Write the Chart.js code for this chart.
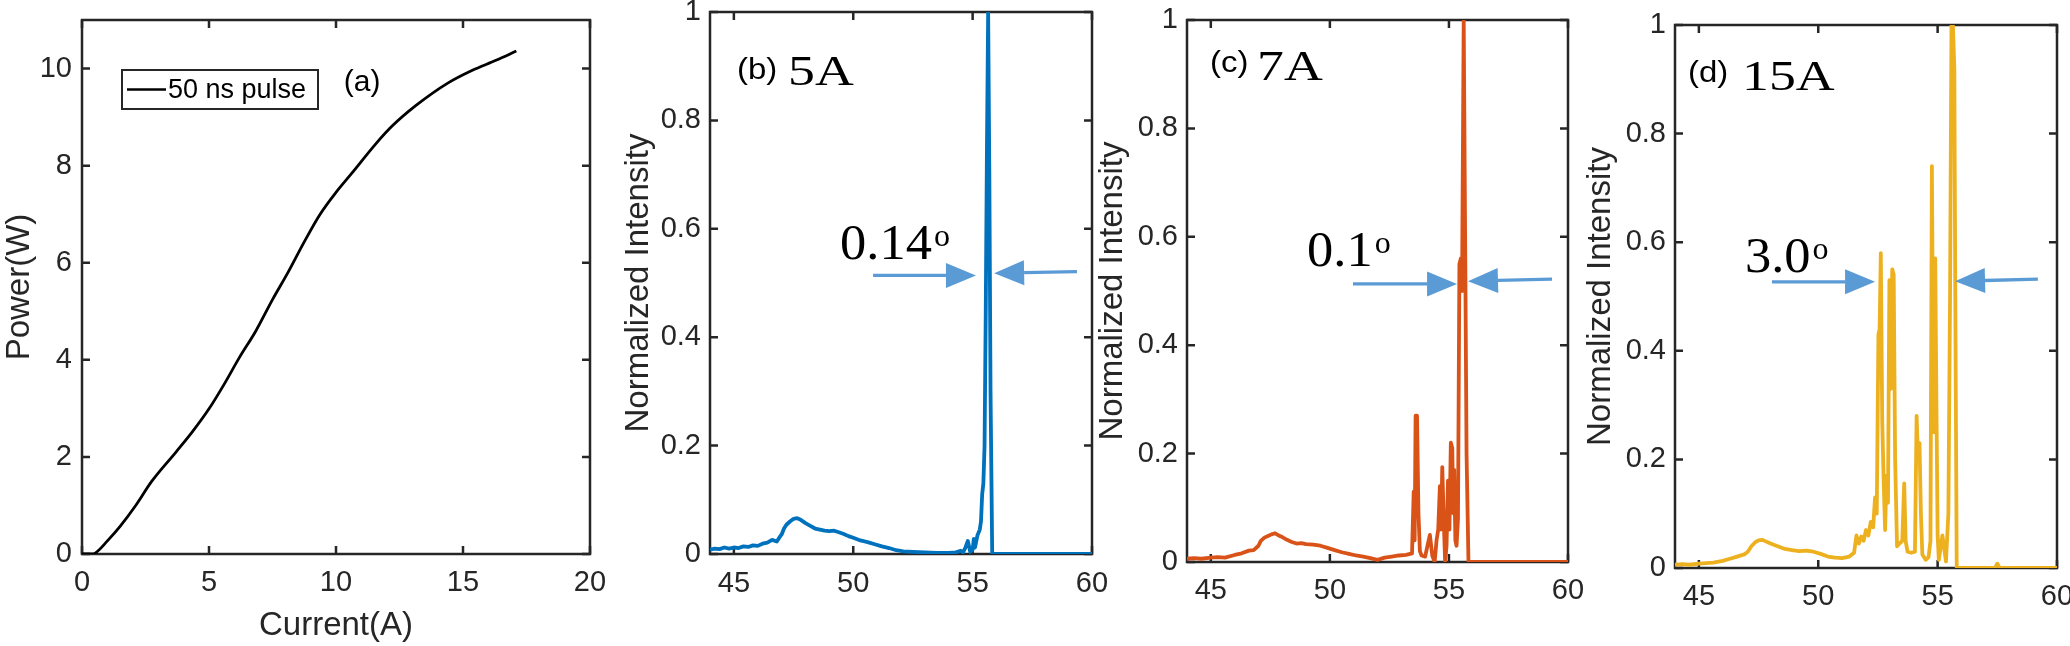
<!DOCTYPE html>
<html>
<head>
<meta charset="utf-8">
<title>Power and far-field spectra</title>
<script src="https://cdn.jsdelivr.net/npm/chart.js@4.4.1/dist/chart.umd.min.js"></script>
<style>
  html, body { margin: 0; padding: 0; background: #fff; }
  body { position: relative; width: 2070px; height: 646px; overflow: hidden; }
  .panel { position: absolute; top: 0; height: 646px; }
</style>
</head>
<body>
<div class="panel" style="left:0;width:620px"><canvas id="chartA"></canvas></div>
<div class="panel" style="left:600px;width:520px"><canvas id="chartB"></canvas></div>
<div class="panel" style="left:1080px;width:520px"><canvas id="chartC"></canvas></div>
<div class="panel" style="left:1570px;width:500px"><canvas id="chartD"></canvas></div>
<script>
// (a) output power vs drive current
const currentA = [0, 0.4, 0.55, 1.0, 1.5, 2.1, 2.75, 3.7, 4.35, 5.0, 5.6, 6.2, 6.85, 7.5, 8.1, 8.75, 9.35, 10.0, 10.6, 11.6, 12.2, 13.15, 14.4, 15.35, 16.3, 17.1];
const powerW = [0, 0, 0.03, 0.27, 0.57, 0.99, 1.5, 2.1, 2.52, 2.99, 3.5, 4.05, 4.6, 5.24, 5.79, 6.43, 6.98, 7.45, 7.83, 8.47, 8.81, 9.24, 9.7, 9.96, 10.17, 10.36];
const currentTicks = [0, 5, 10, 15, 20];
const powerTicks = [0, 2, 4, 6, 8, 10];

// (b)-(d) normalized intensity vs angle
const angleTicks = [45, 50, 55, 60];
const intensityTicks = [0, 0.2, 0.4, 0.6, 0.8, 1];

// 5A
const angleB = [44.0, 44.2, 44.4, 44.6, 44.8, 45.0, 45.2, 45.4, 45.6, 45.8, 46.0, 46.2, 46.4, 46.6, 46.8, 46.9, 47.0, 47.1, 47.2, 47.35,
  47.5, 47.65, 47.8, 48.0, 48.2, 48.4, 48.6, 48.8, 49.0, 49.2, 49.4, 49.6, 49.8, 50.0, 50.3, 50.6, 50.9, 51.2, 51.5, 51.8,
  52.1, 52.5, 53.0, 53.5, 54.0, 54.3, 54.5, 54.6, 54.7, 54.8, 54.9, 55.0, 55.05, 55.1, 55.2, 55.3, 55.35, 55.4, 55.45, 55.5,
  55.55, 55.6, 55.65, 55.7, 55.75, 55.82, 56.0, 58.0, 60.0];
const intensityB = [0.008, 0.010, 0.009, 0.012, 0.010, 0.012, 0.011, 0.014, 0.013, 0.016, 0.015, 0.019, 0.021, 0.026, 0.023, 0.030, 0.036, 0.047, 0.054, 0.060,
  0.065, 0.066, 0.063, 0.057, 0.052, 0.047, 0.045, 0.043, 0.042, 0.043, 0.040, 0.037, 0.033, 0.030, 0.025, 0.022, 0.018, 0.014, 0.011, 0.007,
  0.005, 0.004, 0.003, 0.002, 0.002, 0.003, 0.006, 0.003, 0.012, 0.024, 0.004, 0.008, 0.028, 0.012, 0.034, 0.045, 0.06, 0.11, 0.13, 0.2,
  0.45, 0.75, 1.0, 0.7, 0.3, 0, 0, 0, 0];

// 7A
const angleC = [44.0, 44.3, 44.6, 45.0, 45.3, 45.6, 46.0, 46.3, 46.6, 46.8, 47.0, 47.1, 47.25, 47.4, 47.55, 47.7, 47.85, 48.0, 48.2, 48.4,
  48.6, 48.8, 49.0, 49.3, 49.6, 49.9, 50.2, 50.5, 50.8, 51.1, 51.4, 51.7, 52.0, 52.3, 52.6, 52.9, 53.2, 53.45, 53.52, 53.56,
  53.6, 53.66, 53.72, 53.78, 53.85, 54.0, 54.1, 54.2, 54.3, 54.4, 54.48, 54.55, 54.62, 54.67, 54.72, 54.78, 54.84, 54.9, 54.96, 55.02,
  55.08, 55.14, 55.18, 55.22, 55.27, 55.32, 55.38, 55.44, 55.5, 55.55, 55.62, 55.68, 55.74, 55.82, 56.5, 58.0, 60.0];
const intensityC = [0.006, 0.007, 0.006, 0.008, 0.009, 0.008, 0.013, 0.016, 0.021, 0.022, 0.030, 0.039, 0.045, 0.048, 0.051, 0.053, 0.049, 0.046, 0.041, 0.037,
  0.034, 0.035, 0.033, 0.032, 0.030, 0.026, 0.022, 0.018, 0.015, 0.012, 0.010, 0.007, 0.004, 0.008, 0.010, 0.012, 0.013, 0.016, 0.13, 0.04,
  0.27, 0.27, 0.09, 0.02, 0.012, 0.01, 0.03, 0.05, 0.012, 0.0, 0.04, 0.06, 0.14, 0.06, 0.175, 0.08, 0.0, 0.03, 0.15, 0.06,
  0.22, 0.21, 0.09, 0.17, 0.04, 0.03, 0.08, 0.55, 0.56, 0.5, 1.0, 0.6, 0.2, 0, 0, 0, 0];

// 15A
const angleD = [44.0, 44.3, 44.6, 45.0, 45.3, 45.6, 46.0, 46.3, 46.6, 46.9, 47.05, 47.2, 47.35, 47.5, 47.65, 47.8, 48.0, 48.3, 48.6, 48.9,
  49.2, 49.5, 49.8, 50.1, 50.4, 50.7, 51.0, 51.3, 51.5, 51.6, 51.7, 51.8, 51.9, 52.0, 52.1, 52.2, 52.3, 52.38, 52.45, 52.52,
  52.57, 52.62, 52.68, 52.74, 52.8, 52.86, 52.92, 52.98, 53.04, 53.1, 53.16, 53.22, 53.3, 53.4, 53.52, 53.6, 53.66, 53.74, 53.9, 54.05,
  54.12, 54.18, 54.24, 54.3, 54.36, 54.5, 54.62, 54.7, 54.76, 54.8, 54.85, 54.9, 54.95, 55.0, 55.05, 55.2, 55.35, 55.45, 55.52, 55.58,
  55.64, 55.7, 55.74, 55.8, 57.4, 57.5, 57.6, 60.0];
const intensityD = [0.006, 0.007, 0.006, 0.008, 0.009, 0.010, 0.013, 0.017, 0.021, 0.025, 0.030, 0.040, 0.047, 0.051, 0.052, 0.049, 0.045, 0.040, 0.035, 0.033,
  0.031, 0.032, 0.030, 0.026, 0.021, 0.019, 0.018, 0.021, 0.028, 0.060, 0.045, 0.058, 0.050, 0.070, 0.060, 0.085, 0.075, 0.130, 0.100, 0.430,
  0.440, 0.580, 0.270, 0.160, 0.070, 0.170, 0.120, 0.530, 0.330, 0.550, 0.540, 0.200, 0.040, 0.045, 0.050, 0.156, 0.050, 0.030, 0.028, 0.030,
  0.280, 0.200, 0.230, 0.100, 0.025, 0.015, 0.020, 0.050, 0.740, 0.450, 0.250, 0.570, 0.300, 0.060, 0.015, 0.060, 0.012, 0.100, 0.500, 1.000,
  1.000, 0.920, 0.500, 0.000, 0.000, 0.008, 0.000, 0.000];

const INK = '#262626';
const ARROW = '#5B9BD5';
const SANS = '"Liberation Sans", Arial, sans-serif';
const SERIF = '"Liberation Serif", "Times New Roman", serif';

// annotations, anchored in data units
const panelNotes = {
  chartA: { tag: '(a)', tagAt: [10.31, 9.70], legend: true },
  chartB: { tag: '(b)', tagAt: [45.13, 0.891], amp: '5A', ampAt: [47.27, 0.866],
            spread: '0.14', spreadAt: [49.45, 0.545],
            arrowIn: [[50.83, 0.514], [55.14, 0.514]], arrowOut: [[59.37, 0.521], [55.9, 0.518]] },
  chartC: { tag: '(c)', tagAt: [44.97, 0.92], amp: '7A', ampAt: [46.94, 0.89],
            spread: '0.1', spreadAt: [49.04, 0.546],
            arrowIn: [[50.97, 0.513], [55.34, 0.513]], arrowOut: [[59.33, 0.522], [55.8, 0.518]] },
  chartD: { tag: '(d)', tagAt: [44.54, 0.911], amp: '15A', ampAt: [46.81, 0.88],
            spread: '3.0', spreadAt: [46.93, 0.545],
            arrowIn: [[48.06, 0.527], [52.38, 0.527]], arrowOut: [[59.2, 0.532], [55.73, 0.528]] }
};

function stretchText(ctx, text, x, y, font, sx, baseline) {
  ctx.save();
  ctx.translate(x, y);
  ctx.scale(sx, 1);
  ctx.font = font;
  ctx.textAlign = 'left';
  ctx.textBaseline = baseline;
  ctx.fillText(text, 0, 0);
  const w = ctx.measureText(text).width * sx;
  ctx.restore();
  return w;
}

function drawArrow(ctx, tail, tip) {
  const ang = Math.atan2(tip[1] - tail[1], tip[0] - tail[0]);
  const len = 30, half = 12.5;
  const bx = tip[0] - len * Math.cos(ang), by = tip[1] - len * Math.sin(ang);
  ctx.beginPath();
  ctx.moveTo(tail[0], tail[1]);
  ctx.lineTo(bx, by);
  ctx.stroke();
  ctx.beginPath();
  ctx.moveTo(tip[0], tip[1]);
  ctx.lineTo(bx - half * Math.sin(ang), by + half * Math.cos(ang));
  ctx.lineTo(bx + half * Math.sin(ang), by - half * Math.cos(ang));
  ctx.closePath();
  ctx.fill();
}

// MATLAB-like box with inward ticks on all four sides
const boxPlugin = {
  id: 'matlabBox',
  beforeDatasetsDraw(chart) {
    const { ctx, chartArea: { left, right, top, bottom }, scales: { x, y } } = chart;
    const tl = 8;
    ctx.save();
    ctx.strokeStyle = INK;
    ctx.lineWidth = 2.5;
    ctx.strokeRect(left, top, right - left, bottom - top);
    ctx.beginPath();
    x.ticks.forEach(t => {
      const px = x.getPixelForValue(t.value);
      ctx.moveTo(px, bottom); ctx.lineTo(px, bottom - tl);
      ctx.moveTo(px, top); ctx.lineTo(px, top + tl);
    });
    y.ticks.forEach(t => {
      const py = y.getPixelForValue(t.value);
      ctx.moveTo(left, py); ctx.lineTo(left + tl, py);
      ctx.moveTo(right, py); ctx.lineTo(right - tl, py);
    });
    ctx.stroke();
    ctx.restore();
  }
};

const notesPlugin = {
  id: 'panelNotes',
  afterDatasetsDraw(chart) {
    const n = panelNotes[chart.canvas.id];
    if (!n) return;
    const { ctx, scales: { x, y } } = chart;
    const px = p => [x.getPixelForValue(p[0]), y.getPixelForValue(p[1])];
    ctx.save();
    ctx.fillStyle = '#000';

    const [tx, ty] = px(n.tagAt);
    stretchText(ctx, n.tag, tx, ty, `30px ${SANS}`, n.legend ? 1 : 1.1, 'middle');

    if (n.amp) {
      const [ax, ay] = px(n.ampAt);
      stretchText(ctx, n.amp, ax, ay, `42px ${SERIF}`, 1.28, 'alphabetic');
    }
    if (n.spread) {
      const [sx, sy] = px(n.spreadAt);
      const w = stretchText(ctx, n.spread, sx, sy, `50px ${SERIF}`, 1.05, 'alphabetic');
      stretchText(ctx, 'o', sx + w + 2, sy - 13, `32px ${SERIF}`, 1, 'alphabetic');
    }
    if (n.arrowIn) {
      ctx.strokeStyle = ARROW;
      ctx.fillStyle = ARROW;
      ctx.lineWidth = 3.3;
      drawArrow(ctx, px(n.arrowIn[0]), px(n.arrowIn[1]));
      drawArrow(ctx, px(n.arrowOut[0]), px(n.arrowOut[1]));
    }
    if (n.legend) {
      const { left, top } = chart.chartArea;
      const bx = left + 40, by = top + 50, bw = 196, bh = 39;
      ctx.fillStyle = '#fff';
      ctx.fillRect(bx, by, bw, bh);
      ctx.strokeStyle = INK;
      ctx.lineWidth = 2;
      ctx.strokeRect(bx, by, bw, bh);
      ctx.strokeStyle = '#000';
      ctx.lineWidth = 2.5;
      ctx.beginPath();
      ctx.moveTo(bx + 5, by + bh / 2);
      ctx.lineTo(bx + 44, by + bh / 2);
      ctx.stroke();
      ctx.fillStyle = '#000';
      stretchText(ctx, chart.data.datasets[0].label, bx + 46, by + bh / 2 + 1, `27px ${SANS}`, 1, 'middle');
    }
    ctx.restore();
  }
};

function linearAxis(o) {
  return {
    type: 'linear',
    position: o.position,
    min: o.min,
    max: o.max,
    grid: { display: false, drawTicks: false },
    border: { display: false },
    afterBuildTicks: s => { s.ticks = o.ticks.map(v => ({ value: v })); },
    afterFit: s => {
      if (o.position === 'bottom') s.height = o.size; else s.width = o.size;
      s.paddingLeft = 0; s.paddingRight = 0; s.paddingTop = 0; s.paddingBottom = 0;
    },
    ticks: {
      padding: o.pad,
      color: INK,
      autoSkip: false,
      maxRotation: 0,
      minRotation: 0,
      font: { family: SANS, size: 29 },
      callback: v => String(v)
    },
    title: o.title
      ? { display: true, text: o.title, color: INK, font: { family: SANS, size: 33, lineHeight: 1.2 },
          padding: { top: o.titlePad || 0, bottom: 0 } }
      : { display: false }
  };
}

function makeChart(id, xs, ys, label, color, width, smooth, frame) {
  const ctx = document.getElementById(id).getContext('2d');
  return new Chart(ctx, {
    type: 'line',
    data: {
      datasets: [{
        label: label,
        data: xs.map((v, i) => ({ x: v, y: ys[i] })),
        borderColor: color,
        borderWidth: width,
        borderJoinStyle: 'round',
        pointRadius: 0,
        fill: false,
        tension: 0,
        cubicInterpolationMode: smooth ? 'monotone' : 'default'
      }]
    },
    options: {
      responsive: true,
      maintainAspectRatio: false,
      animation: false,
      devicePixelRatio: 1,
      events: [],
      layout: { autoPadding: false, padding: { left: 0, right: frame.right, top: frame.top, bottom: 0 } },
      plugins: { legend: { display: false }, tooltip: { enabled: false } },
      scales: { x: frame.x, y: frame.y }
    },
    plugins: [boxPlugin, notesPlugin]
  });
}

document.addEventListener('DOMContentLoaded', () => {
  makeChart('chartA', currentA, powerW, '50 ns pulse', '#000', 2.8, true, {
    top: 20, right: 30,
    x: linearAxis({ position: 'bottom', min: 0, max: 20, ticks: currentTicks, size: 92, pad: 12, title: 'Current(A)' }),
    y: linearAxis({ position: 'left', min: 0, max: 11, ticks: powerTicks, size: 82, pad: 10, title: 'Power(W)' })
  });

  const specY = (size, titlePad) => linearAxis({ position: 'left', min: 0, max: 1, ticks: intensityTicks, size: size, pad: 9,
    title: 'Normalized Intensity', titlePad: titlePad });
  const specX = (size, pad) => linearAxis({ position: 'bottom', min: 44, max: 60, ticks: angleTicks, size: size, pad: pad });

  makeChart('chartB', angleB, intensityB, '5A', '#0072BD', 3.8, false, {
    top: 12, right: 28, x: specX(92, 13), y: specY(110, 19)
  });
  makeChart('chartC', angleC, intensityC, '7A', '#D95319', 3.8, false, {
    top: 20, right: 32, x: specX(84, 12), y: specY(107, 13)
  });
  makeChart('chartD', angleD, intensityD, '15A', '#EDB120', 3.8, false, {
    top: 25, right: 13, x: specX(78, 12), y: specY(105, 11)
  });
});
</script>
</body>
</html>
